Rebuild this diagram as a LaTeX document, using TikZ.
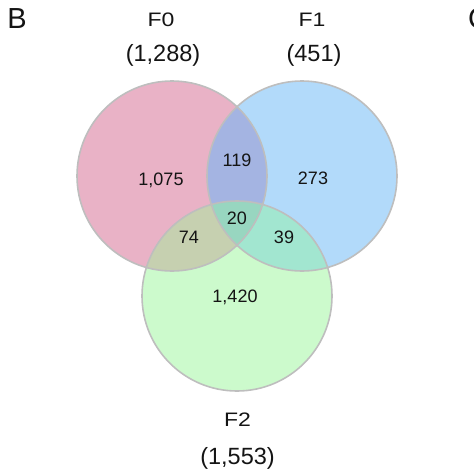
\documentclass[tikz,border=0pt]{standalone}
\usepackage{graphicx}
\usepackage{fontspec}
\setmainfont{Liberation Sans}
\definecolor{cpink}{RGB}{233,178,198}
\definecolor{cblue}{RGB}{178,218,250}
\definecolor{cgreen}{RGB}{204,250,204}
\definecolor{cpb}{RGB}{164,180,226}
\definecolor{cpg}{RGB}{198,208,176}
\definecolor{cbg}{RGB}{162,230,208}
\definecolor{call}{RGB}{152,214,192}
\definecolor{cedge}{RGB}{190,190,190}
\definecolor{ctext}{RGB}{20,20,20}
\newcommand{\widelab}[1]{\scalebox{1.18}[1]{#1}}
\tikzset{
  num/.style={text=ctext,font=\fontsize{18}{20}\selectfont,inner sep=0pt},
  lab/.style={text=ctext,font=\fontsize{19.5}{22}\selectfont,inner sep=0pt},
  cnt/.style={text=ctext,font=\fontsize{23.5}{25}\selectfont,inner sep=0pt},
  panel/.style={text=ctext,font=\fontsize{29}{31}\selectfont,inner sep=0pt},
  ring/.style={draw=cedge,line width=1.6pt}
}
\begin{document}
\begin{tikzpicture}[x=1pt,y=-1pt]
\useasboundingbox (0,0) rectangle (474,474);
\def\rr{95}
\coordinate (A) at (172,176);
\coordinate (Bc) at (302,176);
\coordinate (Cc) at (237,296);
\fill[cpink] (A) circle (\rr);
\fill[cblue] (Bc) circle (\rr);
\fill[cgreen] (Cc) circle (\rr);
\begin{scope}
  \clip (A) circle (\rr);
  \fill[cpb] (Bc) circle (\rr);
  \fill[cpg] (Cc) circle (\rr);
\end{scope}
\begin{scope}
  \clip (Bc) circle (\rr);
  \fill[cbg] (Cc) circle (\rr);
\end{scope}
\begin{scope}
  \clip (A) circle (\rr);
  \clip (Bc) circle (\rr);
  \fill[call] (Cc) circle (\rr);
\end{scope}
\draw[ring] (A) circle (\rr);
\draw[ring] (Bc) circle (\rr);
\draw[ring] (Cc) circle (\rr);
\node[panel] (pB) at (17,19) {B};
\node[panel,anchor=west] (pC) at (468,19) {C};
\node[lab] (f0) at (161,19.5) {\widelab{F0}};
\node[cnt] (f0n) at (163,55) {(1,288)};
\node[lab] (f1) at (312,19.5) {\widelab{F1}};
\node[cnt] (f1n) at (314,55) {(451)};
\node[lab] (f2) at (237.5,420) {\widelab{F2}};
\node[cnt] (f2n) at (237.5,458) {(1,553)};
\node[num] (n0) at (161,180) {1,075};
\node[num] (n01) at (237,160) {119};
\node[num] (n1) at (313,178) {273};
\node[num] (n012) at (237,218) {20};
\node[num] (n02) at (189,237) {74};
\node[num] (n12) at (284,237) {39};
\node[num] (n2) at (235,297) {1,420};
\end{tikzpicture}
\end{document}
